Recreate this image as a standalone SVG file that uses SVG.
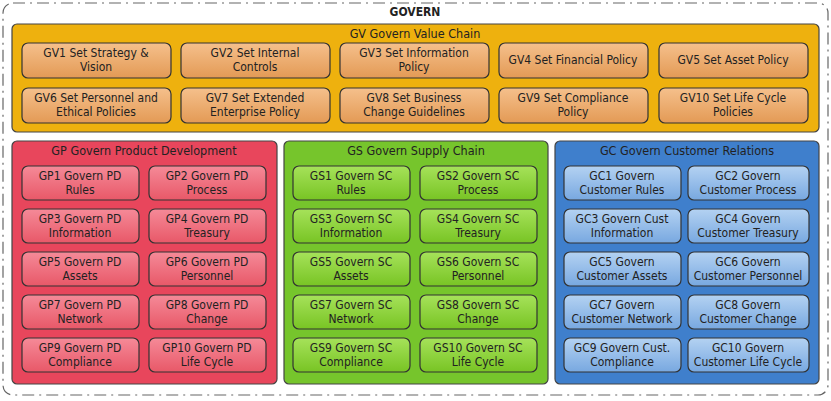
<svg xmlns="http://www.w3.org/2000/svg" width="831" height="401" viewBox="0 0 831 401">
<style>
text{font-family:"DejaVu Sans Condensed","DejaVu Sans",sans-serif;font-size:12px;fill:#222;text-anchor:middle}
.t{font-size:12.5px}
.n{stroke:#333;stroke-width:1.2}
.gv{fill:url(#gv)} .gp{fill:url(#gp)} .gs{fill:url(#gs)} .gc{fill:url(#gc)}
.c{stroke:#444;stroke-width:1.2}
</style>
<defs>
<linearGradient id="gv" x1="0" y1="0" x2="0" y2="1"><stop offset="0" stop-color="#f5c08c"/><stop offset="1" stop-color="#e39a55"/></linearGradient>
<linearGradient id="gp" x1="0" y1="0" x2="0" y2="1"><stop offset="0" stop-color="#f58a98"/><stop offset="1" stop-color="#e85868"/></linearGradient>
<linearGradient id="gs" x1="0" y1="0" x2="0" y2="1"><stop offset="0" stop-color="#a6e25a"/><stop offset="1" stop-color="#78c424"/></linearGradient>
<linearGradient id="gc" x1="0" y1="0" x2="0" y2="1"><stop offset="0" stop-color="#b4d2f2"/><stop offset="1" stop-color="#78a8e0"/></linearGradient>
</defs>
<rect width="831" height="401" fill="#fff"/>
<rect x="3" y="3" width="825" height="392" rx="10" fill="none" stroke="#666" stroke-width="1.2" stroke-dasharray="12,5,2,5"/>
<text x="415" y="16" style="font-weight:bold">GOVERN</text>
<g id="GV">
<rect x="12" y="24" width="807" height="108" rx="5" fill="#eeb10e" class="c"/>
<text x="415" y="38" class="t">GV Govern Value Chain</text>
</g>
<g id="GP"><rect x="12" y="141" width="265" height="243" rx="5" fill="#e8465c" class="c"/><text x="144" y="155" class="t">GP Govern Product Development</text></g>
<g id="GS"><rect x="284" y="141" width="264" height="243" rx="5" fill="#76c52c" class="c"/><text x="416" y="155" class="t">GS Govern Supply Chain</text></g>
<g id="GC"><rect x="555" y="141" width="264" height="243" rx="5" fill="#3f7fcc" class="c"/><text x="687" y="155" class="t">GC Govern Customer Relations</text></g>
<g id="GV1"><rect x="22" y="43" width="149" height="35" rx="6" class="n gv"/><text x="96" y="57">GV1 Set Strategy &amp;</text><text x="96" y="71">Vision</text></g>
<g id="GV2"><rect x="181" y="43" width="149" height="35" rx="6" class="n gv"/><text x="255" y="57">GV2 Set Internal</text><text x="255" y="71">Controls</text></g>
<g id="GV3"><rect x="340" y="43" width="149" height="35" rx="6" class="n gv"/><text x="414" y="57">GV3 Set Information</text><text x="414" y="71">Policy</text></g>
<g id="GV4"><rect x="499" y="43" width="149" height="35" rx="6" class="n gv"/><text x="573" y="64">GV4 Set Financial Policy</text></g>
<g id="GV5"><rect x="659" y="43" width="149" height="35" rx="6" class="n gv"/><text x="733" y="64">GV5 Set Asset Policy</text></g>
<g id="GV6"><rect x="22" y="88" width="149" height="35" rx="6" class="n gv"/><text x="96" y="102">GV6 Set Personnel and</text><text x="96" y="116">Ethical Policies</text></g>
<g id="GV7"><rect x="181" y="88" width="149" height="35" rx="6" class="n gv"/><text x="255" y="102">GV7 Set Extended</text><text x="255" y="116">Enterprise Policy</text></g>
<g id="GV8"><rect x="340" y="88" width="149" height="35" rx="6" class="n gv"/><text x="414" y="102">GV8 Set Business</text><text x="414" y="116">Change Guidelines</text></g>
<g id="GV9"><rect x="499" y="88" width="149" height="35" rx="6" class="n gv"/><text x="573" y="102">GV9 Set Compliance</text><text x="573" y="116">Policy</text></g>
<g id="GV10"><rect x="659" y="88" width="149" height="35" rx="6" class="n gv"/><text x="733" y="102">GV10 Set Life Cycle</text><text x="733" y="116">Policies</text></g>

<g id="GP1"><rect x="22" y="166" width="117" height="34" rx="6" class="n gp"/><text x="80" y="180">GP1 Govern PD</text><text x="80" y="194">Rules</text></g>
<g id="GP2"><rect x="149" y="166" width="117" height="34" rx="6" class="n gp"/><text x="207" y="180">GP2 Govern PD</text><text x="207" y="194">Process</text></g>
<g id="GP3"><rect x="22" y="209" width="117" height="34" rx="6" class="n gp"/><text x="80" y="223">GP3 Govern PD</text><text x="80" y="237">Information</text></g>
<g id="GP4"><rect x="149" y="209" width="117" height="34" rx="6" class="n gp"/><text x="207" y="223">GP4 Govern PD</text><text x="207" y="237">Treasury</text></g>
<g id="GP5"><rect x="22" y="252" width="117" height="34" rx="6" class="n gp"/><text x="80" y="266">GP5 Govern PD</text><text x="80" y="280">Assets</text></g>
<g id="GP6"><rect x="149" y="252" width="117" height="34" rx="6" class="n gp"/><text x="207" y="266">GP6 Govern PD</text><text x="207" y="280">Personnel</text></g>
<g id="GP7"><rect x="22" y="295" width="117" height="34" rx="6" class="n gp"/><text x="80" y="309">GP7 Govern PD</text><text x="80" y="323">Network</text></g>
<g id="GP8"><rect x="149" y="295" width="117" height="34" rx="6" class="n gp"/><text x="207" y="309">GP8 Govern PD</text><text x="207" y="323">Change</text></g>
<g id="GP9"><rect x="22" y="338" width="117" height="34" rx="6" class="n gp"/><text x="80" y="352">GP9 Govern PD</text><text x="80" y="366">Compliance</text></g>
<g id="GP10"><rect x="149" y="338" width="117" height="34" rx="6" class="n gp"/><text x="207" y="352">GP10 Govern PD</text><text x="207" y="366">Life Cycle</text></g>

<g id="GS1"><rect x="293" y="166" width="117" height="34" rx="6" class="n gs"/><text x="351" y="180">GS1 Govern SC</text><text x="351" y="194">Rules</text></g>
<g id="GS2"><rect x="420" y="166" width="117" height="34" rx="6" class="n gs"/><text x="478" y="180">GS2 Govern SC</text><text x="478" y="194">Process</text></g>
<g id="GS3"><rect x="293" y="209" width="117" height="34" rx="6" class="n gs"/><text x="351" y="223">GS3 Govern SC</text><text x="351" y="237">Information</text></g>
<g id="GS4"><rect x="420" y="209" width="117" height="34" rx="6" class="n gs"/><text x="478" y="223">GS4 Govern SC</text><text x="478" y="237">Treasury</text></g>
<g id="GS5"><rect x="293" y="252" width="117" height="34" rx="6" class="n gs"/><text x="351" y="266">GS5 Govern SC</text><text x="351" y="280">Assets</text></g>
<g id="GS6"><rect x="420" y="252" width="117" height="34" rx="6" class="n gs"/><text x="478" y="266">GS6 Govern SC</text><text x="478" y="280">Personnel</text></g>
<g id="GS7"><rect x="293" y="295" width="117" height="34" rx="6" class="n gs"/><text x="351" y="309">GS7 Govern SC</text><text x="351" y="323">Network</text></g>
<g id="GS8"><rect x="420" y="295" width="117" height="34" rx="6" class="n gs"/><text x="478" y="309">GS8 Govern SC</text><text x="478" y="323">Change</text></g>
<g id="GS9"><rect x="293" y="338" width="117" height="34" rx="6" class="n gs"/><text x="351" y="352">GS9 Govern SC</text><text x="351" y="366">Compliance</text></g>
<g id="GS10"><rect x="420" y="338" width="117" height="34" rx="6" class="n gs"/><text x="478" y="352">GS10 Govern SC</text><text x="478" y="366">Life Cycle</text></g>

<g id="GC1"><rect x="564" y="166" width="117" height="34" rx="6" class="n gc"/><text x="622" y="180">GC1 Govern</text><text x="622" y="194">Customer Rules</text></g>
<g id="GC2"><rect x="688" y="166" width="121" height="34" rx="6" class="n gc"/><text x="748" y="180">GC2 Govern</text><text x="748" y="194">Customer Process</text></g>
<g id="GC3"><rect x="564" y="209" width="117" height="34" rx="6" class="n gc"/><text x="622" y="223">GC3 Govern Cust</text><text x="622" y="237">Information</text></g>
<g id="GC4"><rect x="688" y="209" width="121" height="34" rx="6" class="n gc"/><text x="748" y="223">GC4 Govern</text><text x="748" y="237">Customer Treasury</text></g>
<g id="GC5"><rect x="564" y="252" width="117" height="34" rx="6" class="n gc"/><text x="622" y="266">GC5 Govern</text><text x="622" y="280">Customer Assets</text></g>
<g id="GC6"><rect x="688" y="252" width="121" height="34" rx="6" class="n gc"/><text x="748" y="266">GC6 Govern</text><text x="748" y="280">Customer Personnel</text></g>
<g id="GC7"><rect x="564" y="295" width="117" height="34" rx="6" class="n gc"/><text x="622" y="309">GC7 Govern</text><text x="622" y="323">Customer Network</text></g>
<g id="GC8"><rect x="688" y="295" width="121" height="34" rx="6" class="n gc"/><text x="748" y="309">GC8 Govern</text><text x="748" y="323">Customer Change</text></g>
<g id="GC9"><rect x="564" y="338" width="117" height="34" rx="6" class="n gc"/><text x="622" y="352">GC9 Govern Cust.</text><text x="622" y="366">Compliance</text></g>
<g id="GC10"><rect x="688" y="338" width="121" height="34" rx="6" class="n gc"/><text x="748" y="352">GC10 Govern</text><text x="748" y="366">Customer Life Cycle</text></g>
<g id="connectors"/>
</svg>
